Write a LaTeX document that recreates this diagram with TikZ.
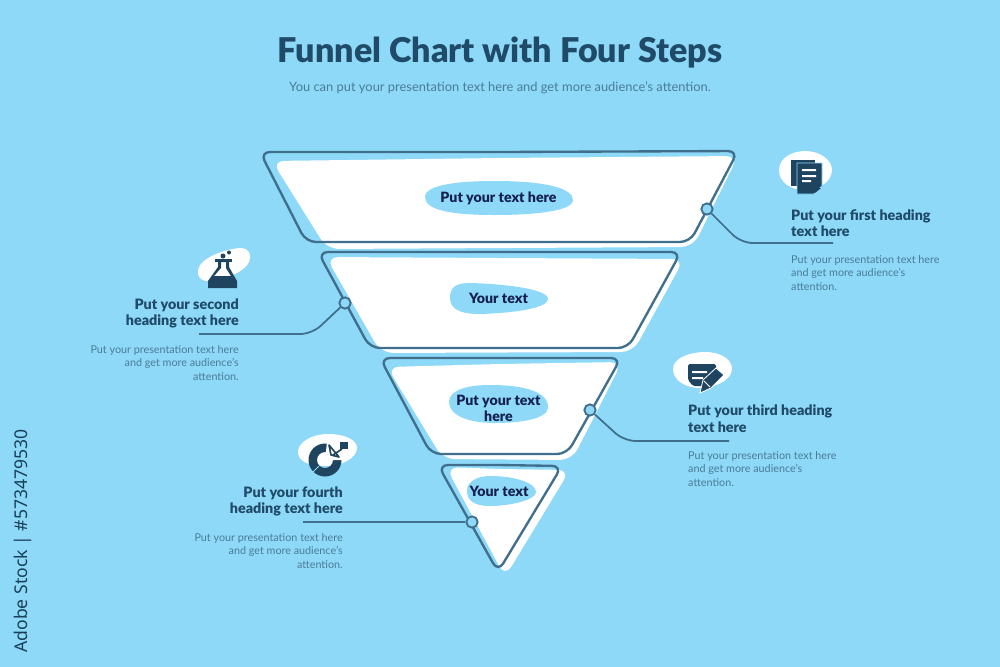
\documentclass[tikz,border=0pt]{standalone}
\usepackage{fontspec}
\setmainfont{Lato}
\newfontfamily\idfont{Noto Sans}
\newfontfamily\heavyfont{Lato Black}
\definecolor{skyback}{HTML}{8DD9F7}
\definecolor{linecol}{HTML}{3F6F8C}
\definecolor{titlecol}{HTML}{1F4A68}
\definecolor{bodycol}{HTML}{4B7C98}
\definecolor{navycol}{HTML}{15204F}
\definecolor{iconcol}{HTML}{1E4460}
\tikzset{
	whiteshape/.style={fill=white,rounded corners=0.36cm},
	outline/.style={draw=linecol,line width=2pt,rounded corners=0.3cm},
	blob/.style={fill=skyback},
	link/.style={draw=linecol,line width=1.5pt,rounded corners=0.35cm},
	dot/.style={circle,draw=linecol,line width=1.6pt,fill=skyback,inner sep=0pt,minimum size=0.34cm},
	blobtext/.style={text=navycol,font=\fontsize{12.1}{13.7}\selectfont\heavyfont,align=center,inner sep=0pt},
	heading/.style={text=titlecol,font=\fontsize{12.2}{13.7}\selectfont\heavyfont,inner sep=0pt},
	bodytext/.style={text=bodycol,font=\fontsize{9.2}{11.5}\selectfont,inner sep=0pt},
	icon/.style={fill=iconcol}
}
\begin{document}
\begin{tikzpicture}[x=0.03cm,y=-0.03cm]
	\fill[skyback] (0,0) rectangle (1000,667);
	\useasboundingbox (0,0) rectangle (1000,667);

	% white shapes
	\fill[whiteshape] (500,158) -- (738,156) -- (693,247) -- (327,249) -- (272,161) -- cycle;
	\fill[whiteshape] (500,258) -- (684,259) -- (633,352) -- (381,353) -- (326,257) -- cycle;
	\fill[whiteshape] (500,364) -- (622,362) -- (572,460) -- (443,459) -- (387,367) -- cycle;
	\fill[whiteshape] (500,469) -- (570,470) -- (505,577) -- (446,467) -- cycle;

	% outlines
	\draw[outline] (500,152) -- (738,151) -- (690,242) -- (306,242) -- (260,152) -- cycle;
	\draw[outline] (500,252) -- (681,252) -- (628,348) -- (370,348) -- (318,252) -- cycle;
	\draw[outline] (500,358) -- (621,358) -- (567,454) -- (431,454) -- (380,358) -- cycle;
	\draw[outline] (500,465) -- (562,466) -- (498,572) -- (438,465) -- cycle;

	% blobs inside the funnel
	\fill[blob] (425,197) .. controls (425,184) and (462,181) .. (495,181) .. controls (540,181) and (573,187) .. (573,200) .. controls (573,211) and (535,215) .. (495,215) .. controls (455,215) and (425,211) .. (425,197);
	\fill[blob] (450,298) .. controls (450,287) and (456,283) .. (470,283) .. controls (505,284) and (548,289) .. (548,299) .. controls (548,308) and (515,313) .. (480,314) .. controls (460,314) and (450,309) .. (450,298);
	\fill[blob] (449,402) .. controls (449,389) and (470,385) .. (490,385) .. controls (525,385) and (549,392) .. (548,408) .. controls (547,419) and (520,423) .. (495,423) .. controls (470,423) and (449,416) .. (449,402);
	\fill[blob] (467,491) .. controls (467,481) and (478,476) .. (490,476) .. controls (515,476) and (536,483) .. (536,492) .. controls (536,500) and (510,506) .. (490,506) .. controls (475,506) and (467,501) .. (467,491);

	\begin{scope}[every node/.style={blobtext}]
		\node (boxa) at (498.5,198) {Put your text here};
		\node (boxb) at (498.5,298.5) {Your text};
		\node (boxc) at (498.5,408) {Put your text\\here};
		\node (boxd) at (499,491.5) {Your text};
	\end{scope}

	% connectors
	\node[dot] (dota) at (707,209) {};
	\node[dot] (dotb) at (345,303) {};
	\node[dot] (dotc) at (590,410) {};
	\node[dot] (dotd) at (472,522) {};
	\coordinate (benda) at (741,243);
	\coordinate (enda) at (833,243);
	\coordinate (bendb) at (312,334);
	\coordinate (endb) at (199,334);
	\coordinate (bendc) at (624,441);
	\coordinate (endc) at (729,441);
	\coordinate (endd) at (303,522);
	\path[link] (dota) -- (benda) -- (enda);
	\path[link] (dotb) -- (bendb) -- (endb);
	\path[link] (dotc) -- (bendc) -- (endc);
	\path[link] (dotd) -- (endd);

	% icon one
	\fill[white] (779,170) .. controls (779,158) and (792,151) .. (805,151) .. controls (820,151) and (832,160) .. (832,170) .. controls (832,182) and (818,190) .. (805,190) .. controls (790,190) and (779,182) .. (779,170);
	\fill[icon] (791,160) rectangle (815,186);
	\fill[icon,draw=skyback,line width=0.8pt] (797,163) -- (822,163) -- (822,186) -- (814,194) -- (797,194) -- cycle;
	\fill[white] (802,169) rectangle (816,171) (802,175) rectangle (816,177) (802,180) rectangle (811,182);
	\fill[iconcol] (815,188) -- (821,188) -- (815,193) -- cycle;

	% icon two
	\fill[white] (198,270) .. controls (200,258) and (225,249) .. (240,248) .. controls (250,248) and (252,256) .. (249,262) .. controls (245,272) and (222,281) .. (208,281) .. controls (200,281) and (197,276) .. (198,270);
	\fill[icon] (215,259) rectangle (232,262);
	\fill[icon,even odd rule] (218,262) -- (229,262) -- (229,267) -- (237,281) -- (237,288) -- (208,288) -- (208,281) -- (218,267) -- cycle
		(221,262) -- (226,262) -- (226,268) -- (231,276) -- (214,276) -- (221,268) -- cycle;
	\fill[icon] (223,256) circle (2.5) (229,252.5) circle (2);

	% icon three
	\fill[white] (673,369) .. controls (673,358) and (690,352) .. (705,352) .. controls (722,352) and (732,360) .. (732,369) .. controls (732,380) and (715,388) .. (700,388) .. controls (685,388) and (673,380) .. (673,369);
	\fill[icon,rounded corners=0.05cm] (688,364) -- (716,364) -- (716,372) -- (706,386) -- (693,386) -- (688,380) -- cycle;
	\fill[white] (692,371) rectangle (707,373) (692,377) rectangle (703,379);
	\fill[icon,draw=white,line width=0.7pt] (700,393) -- (703,380) -- (716,368) -- (724,375) -- (711,388) -- cycle;
	\draw[white,line width=0.7pt] (704,381) -- (710,387);

	% icon four
	\fill[white] (298,452) .. controls (298,442) and (312,434) .. (328,434) .. controls (345,434) and (357,440) .. (357,448) .. controls (357,458) and (342,466) .. (326,466) .. controls (310,466) and (298,462) .. (298,452);
	\fill[icon,even odd rule] (325,460) circle (16.5) (325,460) circle (8);
	\fill[white] (325,460) -- (327,442) -- (345,450) -- (345,460) -- cycle;
	\draw[skyback,line width=0.8pt] (319,466) -- (313,472);
	\fill[icon] (340,442) rectangle (348,449);
	\draw[iconcol,line width=1.4pt,line join=round] (342,449) -- (333,455) (329,445) -- (331,455) -- (339,457) -- cycle;

	% title
	\node[text=titlecol,font=\fontsize{29.1}{30}\selectfont\heavyfont,inner sep=0pt] (title) at (500,52) {Funnel Chart with Four Steps};
	\node[bodytext,font=\fontsize{11}{13}\selectfont] (subtitle) at (500,87.5) {You can put your presentation text here and get more audience's attention.};

	% side texts
	\begin{scope}[every node/.style={heading}]
		\node[anchor=north west,align=left] (heada) at (791,209) {Put your first heading\\text here};
		\node[anchor=north east,align=right] (headb) at (239,299) {Put your second\\heading text here};
		\node[anchor=north west,align=left] (headc) at (688,405) {Put your third heading\\text here};
		\node[anchor=north east,align=right] (headd) at (343,487) {Put your fourth\\heading text here};
	\end{scope}
	\begin{scope}[every node/.style={bodytext}]
		\node[anchor=north west,align=left] (texta) at (791,255) {Put your presentation text here\\and get more audience's\\attention.};
		\node[anchor=north east,align=right] (textb) at (239,345) {Put your presentation text here\\and get more audience's\\attention.};
		\node[anchor=north west,align=left] (textc) at (688,451) {Put your presentation text here\\and get more audience's\\attention.};
		\node[anchor=north east,align=right] (textd) at (343,533) {Put your presentation text here\\and get more audience's\\attention.};
	\end{scope}

	\node[rotate=90,text=titlecol!85!black,font=\idfont\fontsize{15}{18}\selectfont\bfseries,inner sep=0pt] (stockid) at (23,541) {Adobe Stock | \#573479530};
\end{tikzpicture}
\end{document}
